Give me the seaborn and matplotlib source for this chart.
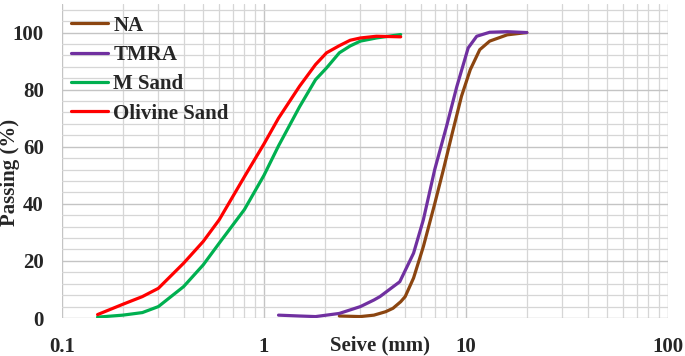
import pandas as pd
import seaborn as sns
import matplotlib.pyplot as plt
from matplotlib.ticker import FixedLocator, MultipleLocator, NullFormatter

# sieve sizes (mm) and percent passing
na_size = [2.36, 3.0, 3.5, 4.0, 4.35, 4.75, 5.0, 5.5, 6.15, 7.0, 7.73, 8.5, 9.5, 10.5, 11.7, 13.1, 16, 20]
na_pass = [0.7, 0.5, 1.0, 2.2, 3.4, 5.7, 7.5, 14, 25, 40, 52, 64, 77.7, 87, 94, 97, 99.2, 100]

tmra_size = [1.18, 1.5, 1.8, 2.36, 3.0, 3.5, 3.75, 4.7, 5.5, 6.15, 7.0, 8.0, 9.0, 10.25, 11.3, 13.1, 16, 20]
tmra_pass = [1.0, 0.7, 0.5, 1.6, 4.0, 6.3, 7.5, 12.7, 22.7, 34.4, 52, 67, 81, 94.6, 98.7, 100.1, 100.3, 100]

msand_size = [0.15, 0.2, 0.25, 0.3, 0.4, 0.5, 0.6, 0.8, 1.0, 1.18, 1.5, 1.8, 2.04, 2.36, 2.67, 3.0, 3.6, 4.75]
msand_pass = [0.3, 1.0, 1.9, 4.0, 11, 18.6, 26.2, 38, 50, 60.3, 74, 83.5, 87.6, 92.9, 95.3, 97, 98.1, 99.3]

olivine_size = [0.15, 0.2, 0.25, 0.3, 0.4, 0.5, 0.6, 0.8, 1.0, 1.18, 1.5, 1.8, 2.04, 2.36, 2.67, 3.0, 3.6, 4.75]
olivine_pass = [1.2, 4.8, 7.5, 10.4, 19.2, 26.8, 34.4, 49.5, 61, 70, 81.2, 88.8, 92.9, 95.4, 97.3, 98.1, 98.7, 98.5]

materials = ["NA", "TMRA", "M Sand", "Olivine Sand"]
colors = ["#8B4510", "#7030A0", "#00B050", "#FF0000"]

x_ticks = [0.1, 1, 10, 100]
x_ticklabels = ["0.1", "1", "10", "100"]
y_ticks = [0, 20, 40, 60, 80, 100]

frames = []
for name, s, p in [("NA", na_size, na_pass), ("TMRA", tmra_size, tmra_pass),
                   ("M Sand", msand_size, msand_pass), ("Olivine Sand", olivine_size, olivine_pass)]:
    frames.append(pd.DataFrame({"Size": s, "Passing": p, "Material": name}))
df = pd.concat(frames, ignore_index=True)

sns.set_style("white")
plt.rcParams["font.family"] = ["Liberation Serif", "DejaVu Serif"]
plt.rcParams["font.weight"] = "bold"
plt.rcParams["axes.labelweight"] = "bold"
plt.rcParams["lines.solid_joinstyle"] = "round"

fig = plt.figure(figsize=(6.85, 3.56), dpi=100)
ax = fig.add_axes([62 / 685, 1 - 318 / 356, 606 / 685, 314 / 356])

sns.lineplot(data=df, x="Size", y="Passing", hue="Material", hue_order=materials,
             palette=colors, sort=False, estimator=None, linewidth=2.3, ax=ax)

ax.set_xscale("log")
ax.set_xlim(0.1, 100)
ax.set_ylim(0, 110)
ax.xaxis.set_major_locator(FixedLocator(x_ticks))
ax.set_xticklabels(x_ticklabels)
ax.xaxis.set_minor_locator(FixedLocator([m * 10.0 ** e for e in (-1, 0, 1) for m in range(2, 10)]))
ax.xaxis.set_minor_formatter(NullFormatter())
ax.yaxis.set_major_locator(FixedLocator(y_ticks))
ax.yaxis.set_minor_locator(MultipleLocator(4))

ax.grid(which="major", color="#c4c4c4", linewidth=1.0)
ax.grid(which="minor", color="#d6d6d6", linewidth=0.9)
ax.set_axisbelow(True)
for sp in ax.spines.values():
    sp.set_visible(False)

ax.tick_params(axis="both", which="both", length=0, labelsize=15)
ax.tick_params(axis="x", pad=14)
ax.tick_params(axis="y", pad=13)

ax.set_xlabel("Seive (mm)", fontsize=15)
ax.xaxis.set_label_coords(0.525, -0.086)
ax.xaxis.label.set_va("center")
ax.set_ylabel("Passing (%)", fontsize=15)
ax.yaxis.set_label_coords(-0.086, 0.465)
ax.yaxis.label.set_va("center")

ax.legend(loc="upper left", bbox_to_anchor=(-0.005, 1.003), frameon=False, fontsize=15,
          handlelength=1.75, handletextpad=0.25, labelspacing=0.45, borderaxespad=0.2)

plt.savefig("out.png", dpi=100)
